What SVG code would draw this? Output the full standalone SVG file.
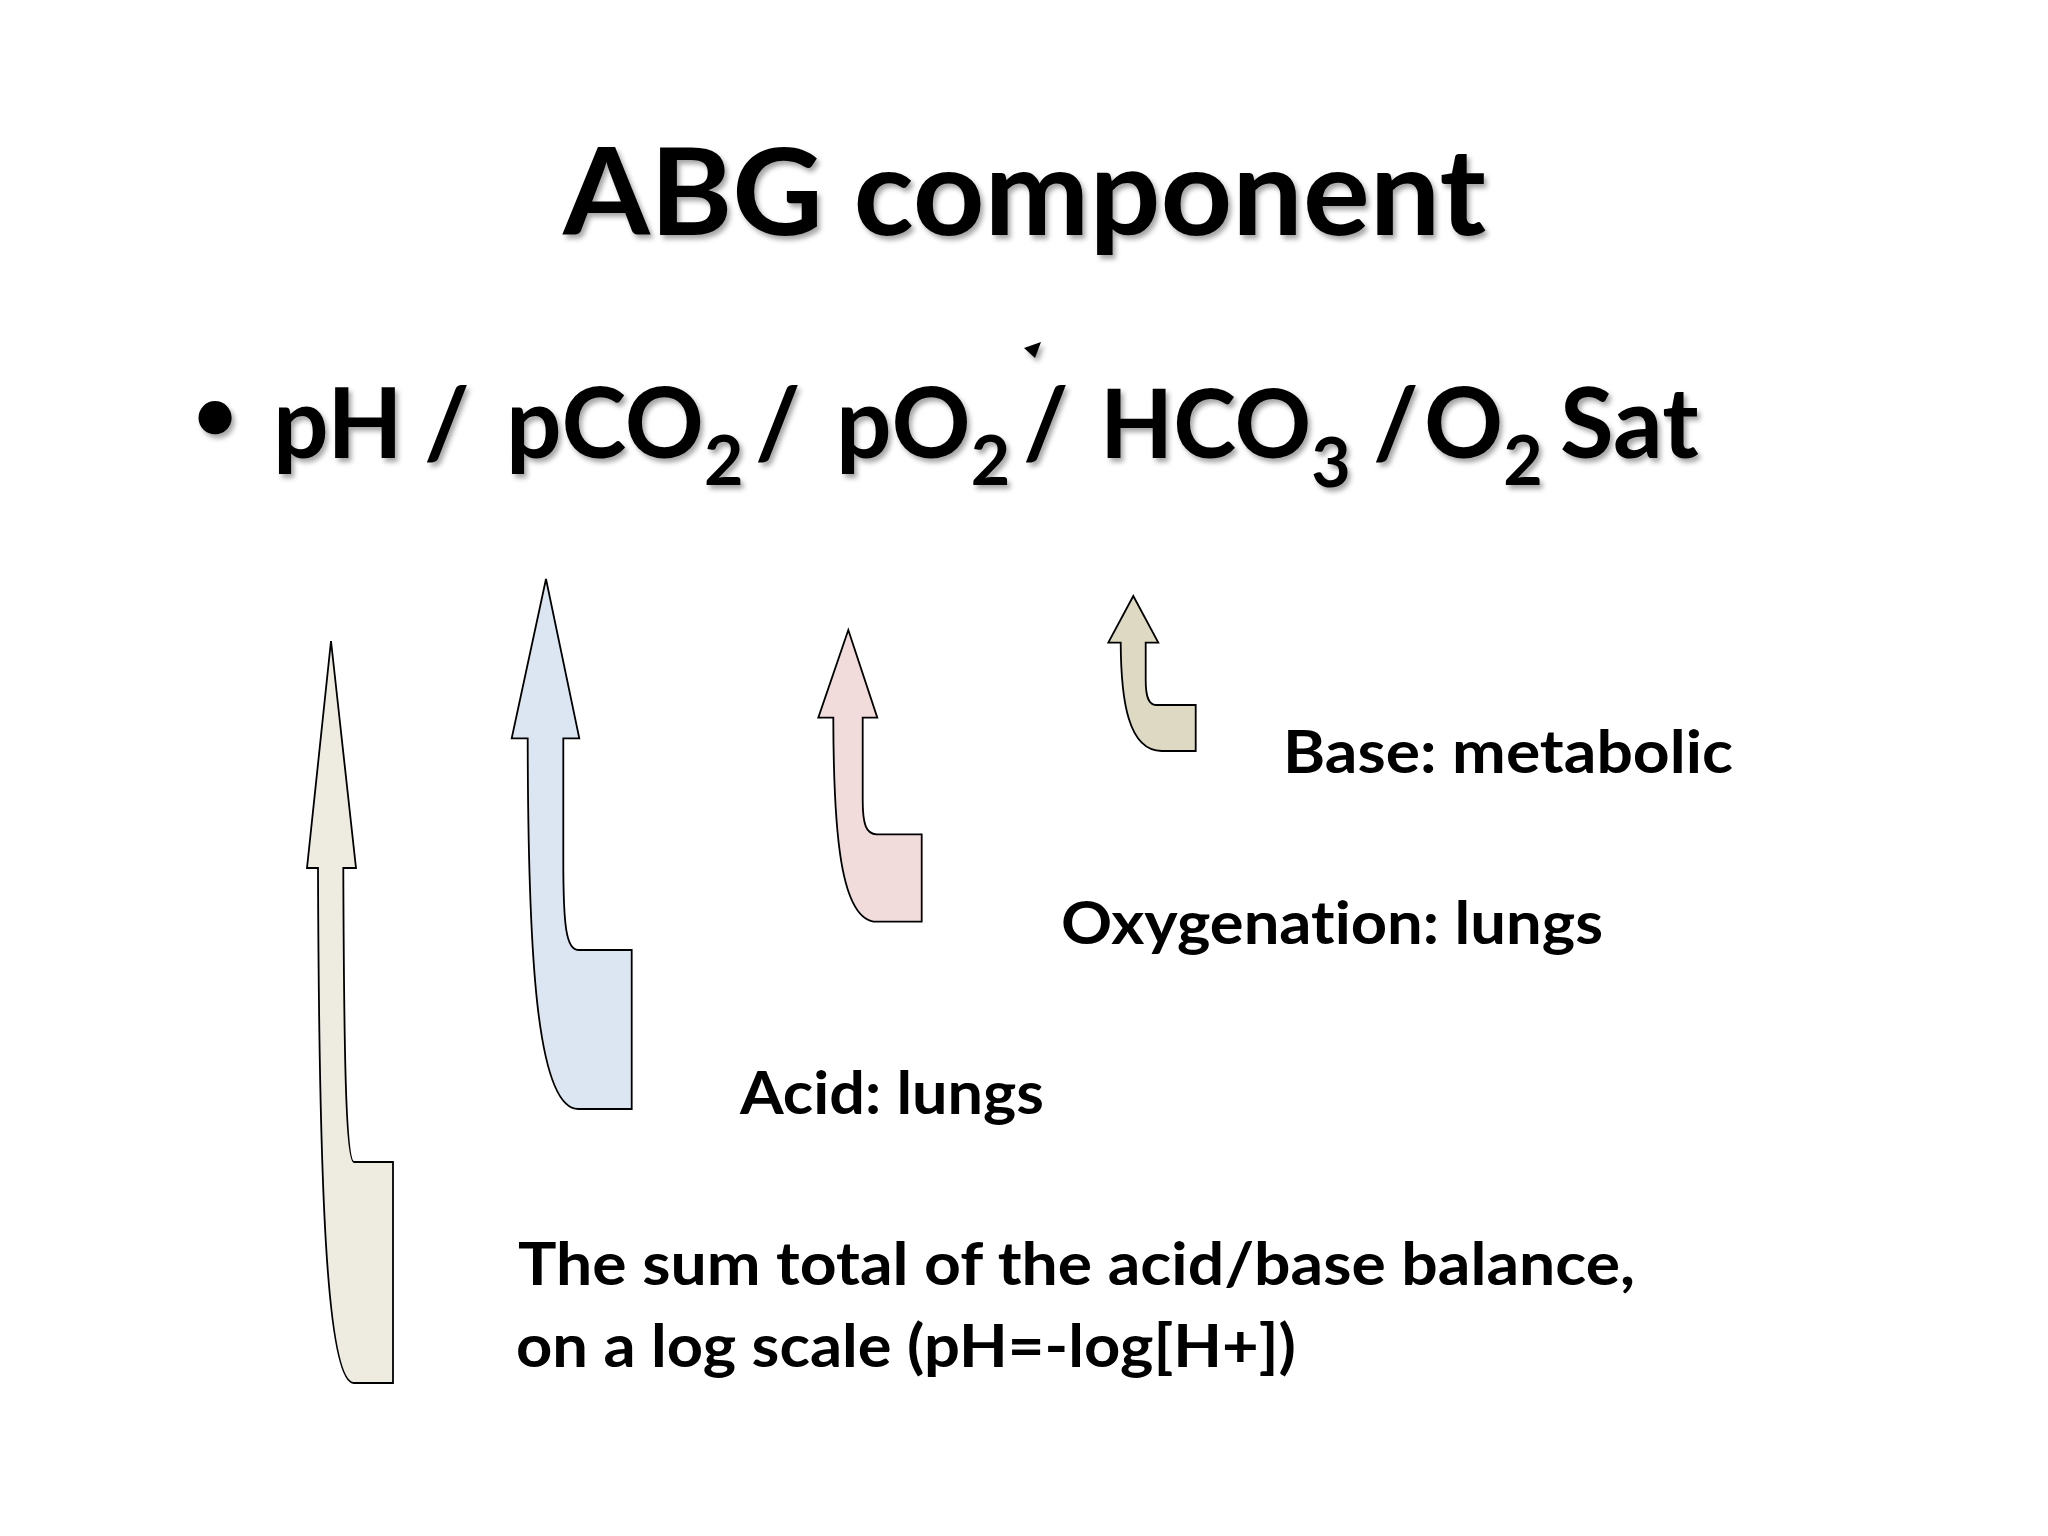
<svg xmlns="http://www.w3.org/2000/svg" width="2048" height="1536" viewBox="0 0 2048 1536">
<defs>
<filter id="sh" x="-5%" y="-20%" width="110%" height="140%">
<feDropShadow dx="3" dy="4" stdDeviation="2.5" flood-color="#000" flood-opacity="0.35"/>
</filter>
<style>
.t{font-family:Lato,"Open Sans","Liberation Sans",sans-serif;font-weight:700;fill:#000;font-variant-ligatures:none;font-feature-settings:"liga" 0}
.arr{stroke:#000;stroke-width:1.8;stroke-linejoin:miter}
.sub{font-size:68px}
</style>
</defs>
<rect width="2048" height="1536" fill="#fff"/>
<g id="title" filter="url(#sh)">
<text class="t" x="563" y="235" font-size="120" textLength="923" lengthAdjust="spacingAndGlyphs">ABG component</text>
</g>
<g id="bullet-line" filter="url(#sh)">
<text class="t" x="215" y="440" font-size="76" text-anchor="middle">•</text>
<text class="t" font-size="98"><tspan x="273" y="458">pH </tspan><tspan x="424" y="458">/ </tspan><tspan x="506" y="458">pCO</tspan><tspan class="sub" y="485">2 </tspan><tspan x="755" y="458">/ </tspan><tspan x="836" y="458">pO</tspan><tspan class="sub" y="485">2 </tspan><tspan x="1023" y="458">/ </tspan><tspan x="1100" y="458" font-size="95">HCO</tspan><tspan class="sub" y="487">3 </tspan><tspan x="1373" y="458">/</tspan><tspan x="1424" y="458">O</tspan><tspan class="sub" y="485">2 </tspan><tspan x="1560" y="458">Sat</tspan></text>
<polygon points="1024,348 1041,342 1035,358" fill="#000"/>
</g>
<g id="arrow-ph">
<path class="arr" fill="#EEECE1" d="M331,641 L356,868 L343.3,868 C344,1060 346,1162 354,1162 L393,1162 L393,1383 L354,1383 C326,1383 319,1180 318,868 L307,868 Z"/>
</g>
<g id="arrow-pco2">
<path class="arr" fill="#DCE6F2" d="M546,579 L579.3,738.4 L563.3,738.4 L563.3,860 C563.3,925 566,950 578.3,950 L631.7,950 L631.7,1109 L578.3,1109 C536,1109 528,950 527.7,738.4 L511.7,738.4 Z"/>
</g>
<g id="arrow-po2">
<path class="arr" fill="#F2DCDB" d="M848.3,630 L877.3,717.7 L862.7,717.7 L862.7,800 C862.7,824 866,834.3 876.7,834.3 L921.7,834.3 L921.7,921.7 L876.7,921.7 C840,921.7 833.5,830 833.3,717.7 L818.3,717.7 Z"/>
</g>
<g id="arrow-hco3">
<path class="arr" fill="#DDD9C3" d="M1133.3,596 L1158.3,642.7 L1145.7,642.7 L1145.7,680 C1145.7,698 1149,705 1156,705 L1195.7,705 L1195.7,751 L1161.7,751 C1128,751 1121,700 1120.7,642.7 L1108.3,642.7 Z"/>
</g>
<g id="labels">
<text class="t" x="1283" y="773" font-size="60" textLength="450" lengthAdjust="spacingAndGlyphs">Base: metabolic</text>
<text class="t" x="1061" y="944" font-size="60" textLength="542" lengthAdjust="spacingAndGlyphs">Oxygenation: lungs</text>
<text class="t" x="740" y="1114" font-size="60" textLength="304" lengthAdjust="spacingAndGlyphs">Acid: lungs</text>
<text class="t" x="518" y="1285" font-size="60" textLength="1117" lengthAdjust="spacingAndGlyphs">The sum total of the acid/base balance,</text>
<text class="t" x="516" y="1367" font-size="60" textLength="780" lengthAdjust="spacingAndGlyphs">on a log scale (pH=-log[H+])</text>
</g>
</svg>
